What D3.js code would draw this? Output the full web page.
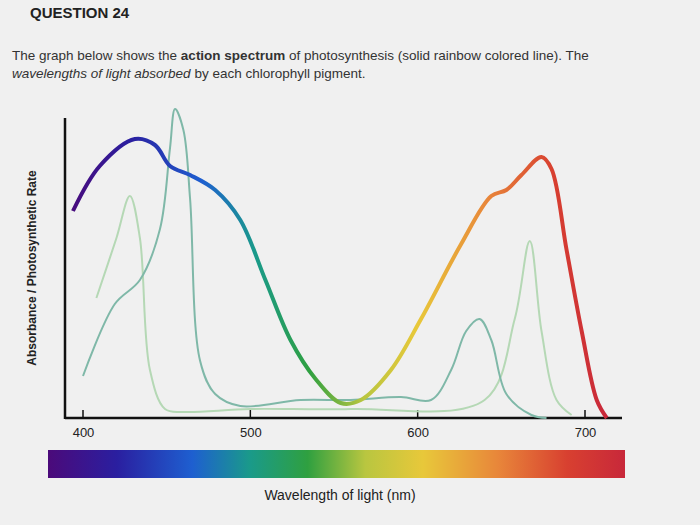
<!DOCTYPE html>
<html><head><meta charset="utf-8">
<script src="https://cdn.jsdelivr.net/npm/d3@7"></script>
<style>body{margin:0;background:#eeeeee;font-family:Arial,"Liberation Sans",sans-serif}</style>
</head><body>
<svg id="c" width="700" height="525"></svg>
<script>
const actionNm=[394,410,431,443,452,464,479,494,509,524,539,554,566,584,602,626,644,653,662,674,680,689,698,707,713];
const actionVal=[69,84,93,91,84,81,76,66,46,26,13,5,6,16,33,58,74,76,81,87,83,56,29,6,0];
const chlANm=[400,419,434,446,452,455,460,464,470,479,494,530,560,590,608,620,629,637,644,653,668,677];
const chlAVal=[14,38,46,63,90,103,96,73,19,8,4,6,6,7,6,16,29,33,26,8,1,0];
const chlBNm=[408,420,428,434,440,449,460,500,560,640,658,667,674,683,692];
const chlBVal=[40,60,74,60,16,3,2,3,3,6,33,59,29,6,1];
const xTicks=[400,500,600,700];
const specStops=[[0,"#4b0a7a"],[0.12,"#2a1fa0"],[0.25,"#1e5fd0"],[0.35,"#1a9a8a"],[0.45,"#2fa040"],[0.55,"#b9c640"],[0.65,"#e8c83a"],[0.78,"#e8863a"],[0.9,"#d84030"],[1,"#c8283a"]];

const svg=d3.select("#c");
svg.append("rect").attr("width",700).attr("height",525).attr("fill","#f0f0f0");
svg.append("text").attr("x",30).attr("y",18).attr("font-size",15).attr("font-weight","bold").attr("fill","#222").text("QUESTION 24");
const p=svg.append("text").attr("x",12).attr("y",60).attr("font-size",13.5).attr("fill","#333");
p.append("tspan").text("The graph below shows the ");
p.append("tspan").attr("font-weight","bold").text("action spectrum");
p.append("tspan").text(" of photosynthesis (solid rainbow colored line). The");
const p2=svg.append("text").attr("x",12).attr("y",78).attr("font-size",13.5).attr("fill","#333");
p2.append("tspan").attr("font-style","italic").text("wavelengths of light absorbed");
p2.append("tspan").text(" by each chlorophyll pigment.");

const x=d3.scaleLinear().domain([400,700]).range([83,585]);
const y=d3.scaleLinear().domain([0,100]).range([418,118]);

const defs=svg.append("defs");
const g=defs.append("linearGradient").attr("id","rb").attr("gradientUnits","userSpaceOnUse")
 .attr("x1",x(390)).attr("x2",x(713)).attr("y1",0).attr("y2",0);
specStops.forEach(s=>g.append("stop").attr("offset",s[0]).attr("stop-color",s[1]));
const g2=defs.append("linearGradient").attr("id","bar");
specStops.forEach(s=>g2.append("stop").attr("offset",s[0]).attr("stop-color",s[1]));

svg.append("rect").attr("x",48).attr("y",450).attr("width",577).attr("height",28).attr("fill","url(#bar)");
svg.append("text").attr("x",340).attr("y",500).attr("text-anchor","middle").attr("font-size",14).attr("fill","#222").text("Wavelength of light (nm)");

// axes
svg.append("line").attr("x1",65).attr("x2",65).attr("y1",118).attr("y2",419).attr("stroke","#111").attr("stroke-width",2.5);
const xa=svg.append("g").attr("transform","translate(0,418)")
 .call(d3.axisBottom(x).tickValues(xTicks).tickSize(0).tickPadding(10).tickFormat(d3.format("d")));
xa.select(".domain").remove();
svg.append("line").attr("x1",65).attr("x2",622).attr("y1",418).attr("y2",418).attr("stroke","#111").attr("stroke-width",2.5);
xa.selectAll("text").attr("font-size",13).attr("fill","#222");
xTicks.forEach(t=>svg.append("line").attr("x1",x(t)).attr("x2",x(t)).attr("y1",410).attr("y2",418).attr("stroke","#111").attr("stroke-width",1.5));
svg.append("text").attr("transform","translate(36,268) rotate(-90)").attr("text-anchor","middle").attr("font-size",12).attr("font-weight","bold").attr("fill","#222").text("Absorbance / Photosynthetic Rate");

const line=d3.line().x(d=>x(d[0])).y(d=>y(d[1])).curve(d3.curveCatmullRom.alpha(0.5));
svg.append("path").attr("d",line(d3.zip(chlBNm,chlBVal))).attr("fill","none").attr("stroke","#b5d8b5").attr("stroke-width",2);
svg.append("path").attr("d",line(d3.zip(chlANm,chlAVal))).attr("fill","none").attr("stroke","#7fb8a8").attr("stroke-width",2);
svg.append("path").attr("d",line(d3.zip(actionNm,actionVal))).attr("fill","none").attr("stroke","url(#rb)").attr("stroke-width",4);
</script></body></html>
